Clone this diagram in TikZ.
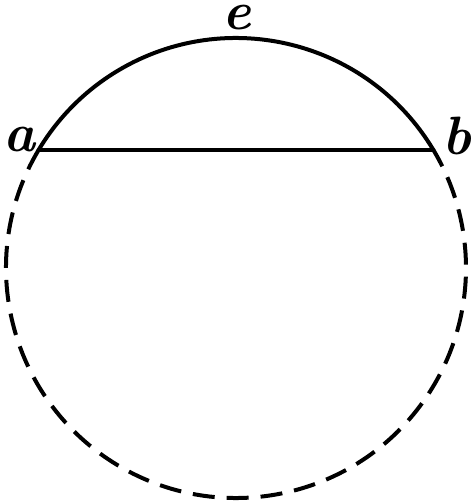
\documentclass[tikz,border=0pt]{standalone}
\usepackage{fix-cm}
\usetikzlibrary{calc}
\begin{document}
\begin{tikzpicture}[x=1pt,y=1pt,
  lbl/.style={inner sep=0pt,anchor=base,font=\fontsize{54}{54}\selectfont\bfseries\itshape},
  solidline/.style={line width=4pt,line cap=round},
  dashline/.style={line width=4pt,dash pattern=on 22pt off 12pt}]
\useasboundingbox (0,0) rectangle (474,504);
\coordinate (c) at (236,236);
\coordinate (a) at ($(c)+(149.1:230)$);
\coordinate (b) at ($(c)+(30.9:230)$);
\draw[solidline] (a) -- (b);
\draw[solidline] (b) arc[start angle=30.9,end angle=149.1,radius=230];
\draw[dashline] (a) arc[start angle=149.1,end angle=390.9,radius=230];
\node[lbl] (la) at (19,352) {a};
\node[lbl] (lb) at (457,349) {b};
\node[lbl] (le) at (237,474) {e};
\end{tikzpicture}
\end{document}
